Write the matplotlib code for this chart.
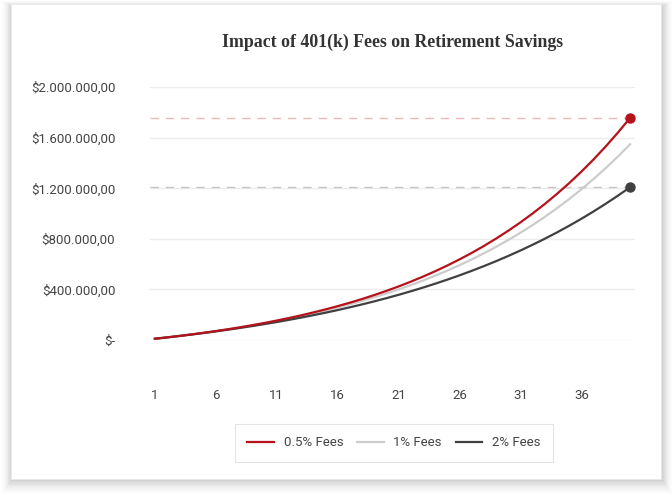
import matplotlib
matplotlib.use("Agg")
import matplotlib.pyplot as plt
from matplotlib.patches import Rectangle
from matplotlib import font_manager

years = list(range(1, 41))
fees_05 = [10000, 20650, 31992, 44072, 56936, 70637, 85229, 100769, 117319, 134944,
           153716, 173707, 194998, 217673, 241822, 267540, 294930, 324101, 355167, 388253,
           423490, 461017, 500983, 543547, 588877, 637154, 688569, 743326, 801642, 863749,
           929893, 1000336, 1075358, 1155256, 1240347, 1330970, 1427483, 1530270, 1639737, 1756320]
fees_1 = [10000, 20600, 31836, 43746, 56371, 69753, 83938, 98975, 114913, 131808,
          149716, 168699, 188821, 210151, 232760, 256725, 282129, 309057, 337600, 367856,
          399927, 433923, 469958, 508156, 548645, 591564, 637058, 685281, 736398, 790582,
          848017, 908898, 973432, 1041838, 1114348, 1191209, 1272681, 1359042, 1450585, 1547620]
fees_2 = [10000, 20500, 31525, 43101, 55256, 68019, 81420, 95491, 110266, 125779,
          142068, 159171, 177130, 195986, 215786, 236575, 258404, 281324, 305390, 330660,
          357193, 385052, 414305, 445020, 477271, 511135, 546691, 584026, 623227, 664388,
          707608, 752988, 800638, 850670, 903203, 958363, 1016281, 1077096, 1140950, 1207998]
series_labels = ["0.5% Fees", "1% Fees", "2% Fees"]
x_ticks = [1, 6, 11, 16, 21, 26, 31, 36]
y_ticks = [0, 400000, 800000, 1200000, 1600000, 2000000]
y_tick_labels = ["$-", "$400.000,00", "$800.000,00", "$1.200.000,00", "$1.600.000,00", "$2.000.000,00"]
title = "Impact of 401(k) Fees on Retirement Savings"

names = {f.name for f in font_manager.fontManager.ttflist}
sans = "Liberation Sans Narrow" if "Liberation Sans Narrow" in names else "Roboto"
serif = "Liberation Serif"

W, H = 672, 495
fig = plt.figure(figsize=(W / 100, H / 100), dpi=100)
fig.patch.set_facecolor("white")

# card shadow + card
cx0, cy0, cx1, cy1 = 11, 4, 661, 479
for d in range(1, 13):
    a = 0.022 * (1 - d / 13.0) + 0.004
    x0 = cx0 - d * 0.9 + 1
    x1 = cx1 + d * 0.9 + 1
    y0 = cy0 - d * 0.5 + 2
    y1 = cy1 + d * 1.2 + 1
    fig.patches.append(Rectangle((x0 / W, 1 - y1 / H), (x1 - x0) / W, (y1 - y0) / H,
                                 transform=fig.transFigure, facecolor="black",
                                 edgecolor="none", alpha=a, zorder=0))
fig.patches.append(Rectangle((cx0 / W, 1 - cy1 / H), (cx1 - cx0) / W, (cy1 - cy0) / H,
                             transform=fig.transFigure, facecolor="white",
                             edgecolor="#e8e8e8", linewidth=0.6, zorder=1))

ax = fig.add_axes([150 / W, 1 - 340 / H, 485 / W, 253 / H])
ax.set_zorder(2)
ax.patch.set_alpha(0)
ax.set_xlim(0.6, 40.4)
ax.set_ylim(0, 2000000)

c_red, c_light, c_dark = "#b5121b", "#cccccc", "#404040"

ax.hlines(fees_05[-1], 0.6, years[-1], colors="#f0b6ba", linewidth=1, linestyles=(0, (6, 5)), zorder=2)
ax.hlines(fees_2[-1], 0.6, years[-1], colors="#c6c6c6", linewidth=1, linestyles=(0, (6, 5)), zorder=2)

ax.plot(years, fees_05, color=c_red, linewidth=1.6, label=series_labels[0], zorder=5, clip_on=False)
ax.plot(years, fees_1, color=c_light, linewidth=1.6, label=series_labels[1], zorder=4, clip_on=False)
ax.plot(years, fees_2, color=c_dark, linewidth=1.6, label=series_labels[2], zorder=4, clip_on=False)
ax.plot([years[-1]], [fees_05[-1]], "o", color=c_red, markersize=6.5, zorder=6, clip_on=False)
ax.plot([years[-1]], [fees_2[-1]], "o", color=c_dark, markersize=6.5, zorder=6, clip_on=False)

ax.set_yticks(y_ticks)
ax.set_yticklabels(y_tick_labels)
ax.set_xticks(x_ticks)
ax.grid(axis="y", color="#ececec", linewidth=1)
ax.set_axisbelow(True)
for s in ax.spines.values():
    s.set_visible(False)
ax.tick_params(axis="both", length=0, colors="#444444", labelsize=9.5)
ax.tick_params(axis="y", pad=25)
ax.tick_params(axis="x", pad=35)
for lab in ax.get_xticklabels() + ax.get_yticklabels():
    lab.set_fontfamily(sans)

fig.text(393 / W, 1 - 42 / H, title, ha="center", va="center", fontsize=12.8,
         fontweight="bold", family=serif, color="#333333", zorder=3)

leg = ax.legend(loc="center", bbox_to_anchor=(394 / W, 1 - 443 / H), bbox_transform=fig.transFigure,
                ncol=3, frameon=True, fancybox=False, handlelength=2.0, handletextpad=0.75,
                columnspacing=1.05, borderpad=0.95, borderaxespad=0,
                prop={"family": sans, "size": 9.5})
leg.get_frame().set_edgecolor("#dddddd")
leg.get_frame().set_linewidth(0.8)
for t in leg.get_texts():
    t.set_color("#444444")

fig.savefig("out.png", dpi=100)
